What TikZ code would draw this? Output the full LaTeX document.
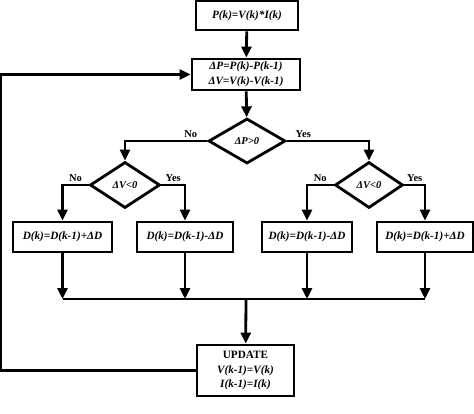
\documentclass[tikz,border=0pt]{standalone}
\usepackage{fontspec}
\setmainfont{Liberation Serif}
\usetikzlibrary{shapes.geometric,arrows.meta}

\begin{document}
\begin{tikzpicture}[x=1pt,y=-1pt,line width=2.8pt,
    flow/.style={-{Triangle[length=11pt,width=10pt]}},
    block/.style={draw, rectangle, inner sep=1pt, align=center,
        font=\bfseries\itshape\fontsize{11.2}{14.5}\selectfont},
    decision/.style={draw, diamond, inner sep=0pt,
        font=\bfseries\itshape\fontsize{10.5}{12}\selectfont},
    answer/.style={above, inner sep=2pt, font=\bfseries\fontsize{10.5}{12}\selectfont}]

    \useasboundingbox (0,0) rectangle (474,413);

    % Power and differences
    \node[block, minimum width=102pt, minimum height=29pt] (power) at (247,15.5) {P(k)=V(k)*I(k)};
    \node[block, minimum width=108pt, minimum height=31pt] (delta) at (246,74.5) {ΔP=P(k)-P(k-1)\\ΔV=V(k)-V(k-1)};

    % Decisions
    \node[decision, minimum width=77pt, minimum height=45pt] (dp) at (247,141) {ΔP>0};
    \node[decision, minimum width=70pt, minimum height=46pt] (dvl) at (125,185) {ΔV<0};
    \node[decision, minimum width=68pt, minimum height=46pt] (dvr) at (369,185) {ΔV<0};

    % Duty cycle steps
    \node[block, minimum width=99pt, minimum height=30pt] (dinc1) at (62.5,237) {D(k)=D(k-1)+ΔD};
    \node[block, minimum width=96pt, minimum height=30pt] (ddec1) at (185,237) {D(k)=D(k-1)-ΔD};
    \node[block, minimum width=90pt, minimum height=30pt] (ddec2) at (307,237) {D(k)=D(k-1)-ΔD};
    \node[block, minimum width=96pt, minimum height=30pt] (dinc2) at (425,237) {D(k)=D(k-1)+ΔD};

    % Update
    \node[block, minimum width=97pt, minimum height=51pt] (update) at (245.5,370.5) {\textup{UPDATE}\\V(k-1)=V(k)\\I(k-1)=I(k)};

    \coordinate (join) at (246,299);
    \coordinate (back) at (1,0);

    % Arrows
    \draw[flow] (power) -- (delta);
    \draw[flow] (delta) -- (dp);
    \draw[flow] (dp.west) -| (dvl.north) node[answer, pos=0.1] {No};
    \draw[flow] (dp.east) -| (dvr.north) node[answer, pos=0.1] {Yes};
    \draw[flow] (dvl.west) -| (dinc1.north) node[answer, pos=0.25] {No};
    \draw[flow] (dvl.east) -| (ddec1.north) node[answer, pos=0.25] {Yes};
    \draw[flow] (dvr.west) -| (ddec2.north) node[answer, pos=0.25] {No};
    \draw[flow] (dvr.east) -| (dinc2.north) node[answer, pos=0.25] {Yes};

    \foreach \b in {dinc1,ddec1,ddec2,dinc2}
        \draw[flow] (\b) -- (\b |- join);
    \draw (dinc1 |- join) -- (dinc2 |- join);
    \draw[flow] (join) -- (update);

    % Feedback
    \draw[flow] (update.west) -- (update.west -| back) |- (delta.west);

\end{tikzpicture}
\end{document}
